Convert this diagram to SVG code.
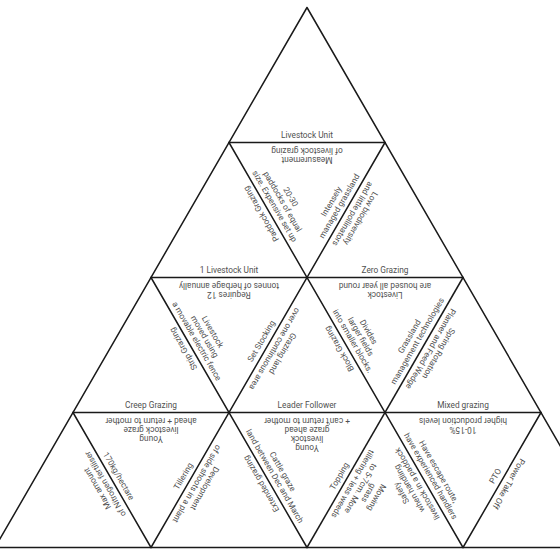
<svg xmlns="http://www.w3.org/2000/svg" width="560" height="560" viewBox="0 0 560 560">
<style>
.t { font-family: Roboto, "Liberation Sans", sans-serif; font-size: 8.3px; fill: #505050; text-anchor: middle; }
.g { stroke: #1a1a1a; stroke-width: 1.5; fill: none; stroke-linejoin: round; stroke-linecap: round; }
</style>
<rect x="0" y="0" width="560" height="560" fill="#fff"/>
<g id="grid" class="g">
<polygon points="307,7.5 -5,547.5 619,547.5"/>
<line x1="229" y1="142.5" x2="385" y2="142.5"/>
<line x1="151" y1="277.5" x2="463" y2="277.5"/>
<line x1="73" y1="412.5" x2="541" y2="412.5"/>
<line x1="229" y1="142.5" x2="463" y2="547.5"/>
<line x1="151" y1="277.5" x2="307" y2="547.5"/>
<line x1="73" y1="412.5" x2="151" y2="547.5"/>
<line x1="385" y1="142.5" x2="151" y2="547.5"/>
<line x1="463" y1="277.5" x2="307" y2="547.5"/>
<line x1="541" y1="412.5" x2="463" y2="547.5"/>
</g>
<g id="t11">
<text class="t" transform="translate(307 137.5)"><tspan x="0" y="0">Livestock Unit</tspan></text>
</g>
<g id="d21">
<text class="t" transform="translate(307 147.5) rotate(180)"><tspan x="0" y="-9.2">Measurement</tspan><tspan x="0" y="0">of livestock grazing</tspan></text>
<text class="t" transform="translate(272.33 207.5) rotate(60)"><tspan x="0" y="-18.4">20-30</tspan><tspan x="0" y="-9.2">paddocks of equal</tspan><tspan x="0" y="0">size. Expensive set up</tspan></text>
<text class="t" transform="translate(341.67 207.5) rotate(-60)"><tspan x="0" y="-9.2">Intensely</tspan><tspan x="0" y="0">managed grassland</tspan></text>
</g>
<g id="t21">
<text class="t" transform="translate(263.67 212.5) rotate(240)"><tspan x="0" y="0">Paddock Grazing</tspan></text>
<text class="t" transform="translate(229 272.5)"><tspan x="0" y="0">1 Livestock Unit</tspan></text>
</g>
<g id="t22">
<text class="t" transform="translate(350.33 212.5) rotate(120)"><tspan x="0" y="-9.2">Low biodiversity</tspan><tspan x="0" y="0">and little pollinators</tspan></text>
<text class="t" transform="translate(385 272.5)"><tspan x="0" y="0">Zero Grazing</tspan></text>
</g>
<g id="d31">
<text class="t" transform="translate(229 282.5) rotate(180)"><tspan x="0" y="-9.2">Requires 12</tspan><tspan x="0" y="0">tonnes of herbage annually</tspan></text>
<text class="t" transform="translate(194.33 342.5) rotate(60)"><tspan x="0" y="-18.4">Livestock</tspan><tspan x="0" y="-9.2">moved using</tspan><tspan x="0" y="0">a movable electric fence</tspan></text>
<text class="t" transform="translate(263.67 342.5) rotate(-60)"><tspan x="0" y="0">Set Stocking</tspan></text>
</g>
<g id="t31">
<text class="t" transform="translate(185.67 347.5) rotate(240)"><tspan x="0" y="0">Strip Grazing</tspan></text>
<text class="t" transform="translate(151 407.5)"><tspan x="0" y="0">Creep Grazing</tspan></text>
</g>
<g id="t32">
<text class="t" transform="translate(272.33 347.5) rotate(120)"><tspan x="0" y="-9.2">Grazing land</tspan><tspan x="0" y="0">over one continuous area</tspan></text>
<text class="t" transform="translate(341.67 347.5) rotate(240)"><tspan x="0" y="0">Block Grazing</tspan></text>
<text class="t" transform="translate(307 407.5)"><tspan x="0" y="0">Leader Follower</tspan></text>
</g>
<g id="d32">
<text class="t" transform="translate(385 282.5) rotate(180)"><tspan x="0" y="-9.2">Livestock</tspan><tspan x="0" y="0">are housed all year round</tspan></text>
<text class="t" transform="translate(350.33 342.5) rotate(60)"><tspan x="0" y="-18.4">Divides</tspan><tspan x="0" y="-9.2">larger fields</tspan><tspan x="0" y="0">into smaller blocks.</tspan></text>
<text class="t" transform="translate(419.67 342.5) rotate(-60)"><tspan x="0" y="-9.2">Grassland</tspan><tspan x="0" y="0">management technologies</tspan></text>
</g>
<g id="t33">
<text class="t" transform="translate(428.33 347.5) rotate(120)"><tspan x="0" y="-9.2">Spring Rotation</tspan><tspan x="0" y="0">Planner and Feed Wedge</tspan></text>
<text class="t" transform="translate(463 407.5)"><tspan x="0" y="0">Mixed grazing</tspan></text>
</g>
<g id="d41">
<text class="t" transform="translate(151 417.5) rotate(180)"><tspan x="0" y="-18.4">Young</tspan><tspan x="0" y="-9.2">livestock graze</tspan><tspan x="0" y="0">ahead + return to mother</tspan></text>
<text class="t" transform="translate(116.33 477.5) rotate(60)"><tspan x="0" y="0">170kg/hectare</tspan></text>
<text class="t" transform="translate(185.67 477.5) rotate(-60)"><tspan x="0" y="0">Tillering</tspan></text>
</g>
<g id="t41">
<text class="t" transform="translate(107.67 482.5) rotate(240)"><tspan x="0" y="-9.2">Max amount</tspan><tspan x="0" y="0">of Nitrogen fertiliser</tspan></text>
</g>
<g id="t42">
<text class="t" transform="translate(194.33 482.5) rotate(120)"><tspan x="0" y="-9.2">Development</tspan><tspan x="0" y="0">of side shoots in a plant</tspan></text>
<text class="t" transform="translate(263.67 482.5) rotate(240)"><tspan x="0" y="0">Extended grazing</tspan></text>
</g>
<g id="d42">
<text class="t" transform="translate(307 417.5) rotate(180)"><tspan x="0" y="-27.6">Young</tspan><tspan x="0" y="-18.4">livestock</tspan><tspan x="0" y="-9.2">graze ahead</tspan><tspan x="0" y="0">+ can't return to mother</tspan></text>
<text class="t" transform="translate(272.33 477.5) rotate(60)"><tspan x="0" y="-9.2">Cattle graze</tspan><tspan x="0" y="0">land between Dec and March</tspan></text>
<text class="t" transform="translate(341.67 477.5) rotate(-60)"><tspan x="0" y="0">Topping</tspan></text>
</g>
<g id="t43">
<text class="t" transform="translate(350.33 482.5) rotate(120)"><tspan x="0" y="-27.6">Mowing</tspan><tspan x="0" y="-18.4">grass</tspan><tspan x="0" y="-9.2">to 5-7cm. More</tspan><tspan x="0" y="0">tillering + less weeds</tspan></text>
<text class="t" transform="translate(419.67 482.5) rotate(240)"><tspan x="0" y="-18.4">Safety</tspan><tspan x="0" y="-9.2">when handling</tspan><tspan x="0" y="0">livestock in a paddock</tspan></text>
</g>
<g id="d43">
<text class="t" transform="translate(463 417.5) rotate(180)"><tspan x="0" y="-9.2">10-15%</tspan><tspan x="0" y="0">higher production levels</tspan></text>
<text class="t" transform="translate(428.33 477.5) rotate(60)"><tspan x="0" y="-9.2">Have escape route,</tspan><tspan x="0" y="0">have experienced handlers</tspan></text>
<text class="t" transform="translate(497.67 477.5) rotate(-60)"><tspan x="0" y="0">PTO</tspan></text>
</g>
<g id="t44">
<text class="t" transform="translate(506.33 482.5) rotate(120)"><tspan x="0" y="0">Power Take Off</tspan></text>
</g>
</svg>
